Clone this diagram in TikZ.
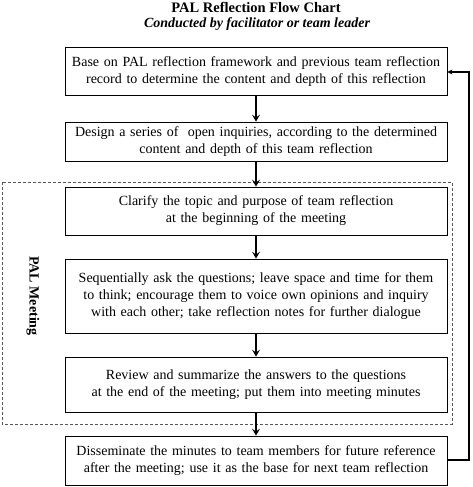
\documentclass[tikz,border=0pt]{standalone}
\usepackage{fontspec}
\setmainfont{Liberation Serif}
\usetikzlibrary{arrows.meta}
\begin{document}
\begin{tikzpicture}[x=1pt,y=-1pt,
  stepbox/.style={draw, line width=0.8pt, minimum width=382pt, text width=380pt, align=center, inner sep=0pt,
    font=\fontsize{14}{17}\selectfont},
  flow/.style={line width=1.6pt, -{Stealth[length=7pt,width=8pt,inset=3pt]}},
  back/.style={line width=1.6pt, -{Stealth[length=5pt,width=5pt,inset=1.5pt]}},
  grp/.style={draw, densely dashed, line width=0.6pt, gray!70!black}]
\useasboundingbox (0,0) rectangle (472,487);
\node (t1) at (256,7) {\fontsize{14.5}{15}\selectfont\bfseries PAL Reflection Flow Chart};
\node (t2) at (257,24) {\fontsize{14}{15}\selectfont\bfseries\itshape Conducted by facilitator or team leader};
\node[stepbox, minimum height=48pt] (b1) at (256,71.5) {Base on PAL reflection framework and previous team reflection\\ record to determine the content and depth of this reflection};
\node[stepbox, minimum height=39pt] (b2) at (256,141.5) {Design a series of\ \ open inquiries, according to the determined\\ content and depth of this team reflection};
\node[stepbox, minimum height=48pt] (b3) at (256,211) {Clarify the topic and purpose of team reflection\\ at the beginning of the meeting};
\node[stepbox, minimum height=74pt] (b4) at (256,296) {Sequentially ask the questions; leave space and time for them\\ to think; encourage them to voice own opinions and inquiry\\ with each other; take reflection notes for further dialogue};
\node[stepbox, minimum height=55pt] (b5) at (256,384.5) {Review and summarize the answers to the questions\\ at the end of the meeting; put them into meeting minutes};
\node[stepbox, minimum height=49pt] (b6) at (256,460.5) {Disseminate the minutes to team members for future reference\\ after the meeting; use it as the base for next team reflection};
\draw[grp] (2,182) rectangle (452,424);
\node[rotate=-90, font=\fontsize{14}{15}\selectfont\bfseries] (pm) at (33,296) {PAL Meeting};
\draw[flow] (b1) -- (b2);
\draw[flow] (b2) -- (b3);
\draw[flow] (b3) -- (b4);
\draw[flow] (b4) -- (b5);
\draw[flow] (b5) -- (b6);
\coordinate (r1) at (469,460);
\coordinate (r2) at (469,72);
\draw[back] (b6.east |- r1) -- (r1) -- (r2) -- (b1.east |- r2);
\end{tikzpicture}
\end{document}
